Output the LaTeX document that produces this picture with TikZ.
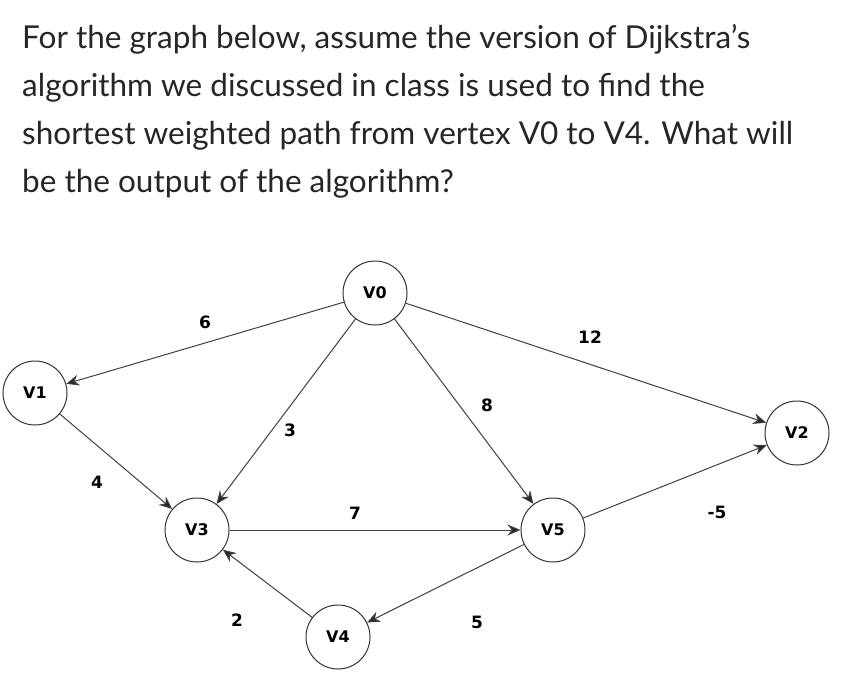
\documentclass[tikz,border=0pt]{standalone}
\usepackage{fontspec}
\setmainfont{Lato}
\newfontfamily\nodefont{DejaVu Sans}
\usetikzlibrary{arrows.meta}
\begin{document}
\begin{tikzpicture}[x=1pt,y=-1pt,
  vtx/.style={circle,draw=black!80,line width=1pt,minimum size=64pt,inner sep=0pt,font=\nodefont\bfseries\fontsize{16}{16}\selectfont},
  edge/.style={draw=black!75,line width=1pt,-{Stealth[length=13pt,width=11pt,fill=black!85]}},
  lbl/.style={font=\nodefont\bfseries\fontsize{17}{17}\selectfont},
  txt/.style={anchor=base west,inner sep=0pt,font=\fontsize{31.5}{31.5}\selectfont,text=black!85}]
\useasboundingbox (0,0) rectangle (860,696);
\node[txt] (t1) at (22,48) {For the graph below, assume the version of Dijkstra\symbol{39}s};
\node[txt] (t2) at (22,96) {algorithm we discussed in class is used to find the};
\node[txt] (t3) at (22,144) {shortest weighted path from vertex V0 to V4. What will};
\node[txt] (t4) at (22,192) {be the output of the algorithm?};
\node[vtx] (v0) at (375,293) {V0};
\node[vtx] (v1) at (35,393) {V1};
\node[vtx] (v2) at (797,433) {V2};
\node[vtx] (v3) at (197,530) {V3};
\node[vtx] (v5) at (553,530) {V5};
\node[vtx] (v4) at (338,637) {V4};
\draw[edge] (v0) -- (v1);
\draw[edge] (v0) -- (v2);
\draw[edge] (v0) -- (v3);
\draw[edge] (v0) -- (v5);
\draw[edge] (v1) -- (v3);
\draw[edge] (v3) -- (v5);
\draw[edge] (v5) -- (v2);
\draw[edge] (v4) -- (v3);
\draw[edge] (v5) -- (v4);
\node[lbl] (l6) at (205,322) {6};
\node[lbl] (l12) at (590,337) {12};
\node[lbl] (l3) at (290,430) {3};
\node[lbl] (l8) at (487,405) {8};
\node[lbl] (l4) at (97,482) {4};
\node[lbl] (l7) at (355,513) {7};
\node[lbl] (l5n) at (717,512) {-5};
\node[lbl] (l2) at (237,620) {2};
\node[lbl] (l5) at (477,622) {5};
\end{tikzpicture}
\end{document}
